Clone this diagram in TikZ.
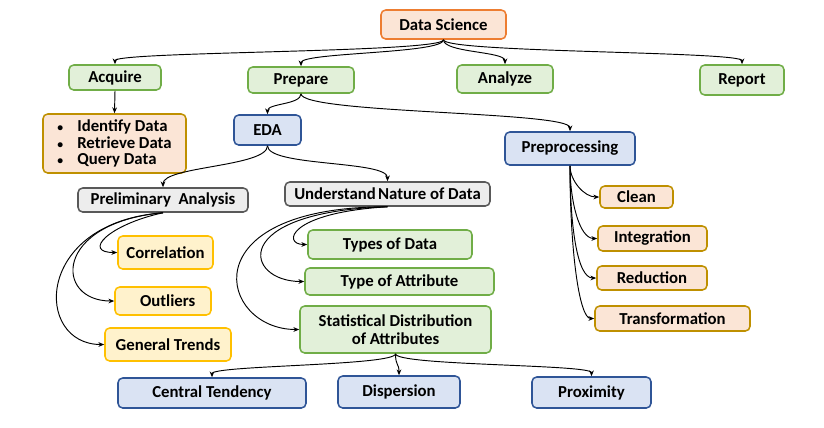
\documentclass[tikz,border=0pt]{standalone}
\usepackage{fontspec}
\setmainfont{Carlito}
\usetikzlibrary{arrows.meta}

\definecolor{orgline}{HTML}{ED7D31}
\definecolor{orgfill}{HTML}{FBE5D6}
\definecolor{grnline}{HTML}{70AD47}
\definecolor{grnfill}{HTML}{E2F0D9}
\definecolor{gldline}{HTML}{BF9000}
\definecolor{bluline}{HTML}{2F5597}
\definecolor{blufill}{HTML}{DAE3F3}
\definecolor{gryline}{HTML}{595959}
\definecolor{gryfill}{HTML}{EDEDED}
\definecolor{ylwline}{HTML}{FFC000}
\definecolor{ylwfill}{HTML}{FFF2CC}

\newcommand{\itm}{{\fontsize{10}{10}\selectfont\textbullet}\hspace{12pt}}

\tikzset{
  box/.style={rounded corners=4pt, line width=1.3pt, inner sep=0pt,
    font=\fontsize{14.3}{14.8}\selectfont\bfseries, align=center},
  wh/.style 2 args={minimum width=#1*0.3mm, minimum height=#2*0.3mm},
  orgbox/.style={box, draw=orgline, fill=orgfill},
  grnbox/.style={box, draw=grnline, fill=grnfill},
  gldbox/.style={box, draw=gldline, fill=orgfill},
  blubox/.style={box, draw=bluline, fill=blufill},
  grybox/.style={box, draw=gryline, fill=gryfill},
  ylwbox/.style={box, draw=ylwline, fill=ylwfill},
  link/.style={line width=0.8pt, -{Stealth[length=5pt,width=4pt]}}
}

\begin{document}
\begin{tikzpicture}[x=0.3mm, y=0.3mm]
			%%%%% START %%%%%
			\useasboundingbox (0,0) rectangle (824,-427);
			
			% top level
			\node[orgbox, wh={125}{29}] (ds) at (443.5,-24.5) {Data Science};
			\node[grnbox, wh={92}{25}] (acq) at (115,-77.5) {Acquire};
			\node[grnbox, wh={106}{26}] (prep) at (301,-80) {Prepare};
			\node[grnbox, wh={96}{28}] (ana) at (505,-79) {Analyze};
			\node[grnbox, wh={84}{30}] (rep) at (742,-80) {Report};
			
			\node[gldbox, wh={143}{59}, align=left, font=\fontsize{14.3}{14}\selectfont\bfseries] (bul) at (114.5,-143.5)
			  {\itm Identify Data\\\itm Retrieve Data\\\itm Query Data};
			
			% prepare
			\node[blubox, wh={67}{30}] (eda) at (267.5,-130) {EDA};
			\node[blubox, wh={130}{33}] (pre) at (570,-148.5) {Preprocessing};
			
			\node[grybox, wh={170}{24}] (pa) at (163,-200) {Preliminary\ \ Analysis};
			\node[grybox, wh={205}{24}] (und) at (387.5,-194) {Understand\hspace{2pt}Nature of Data};
			
			\node[ylwbox, wh={95}{33}] (corr) at (165.5,-252.5) {Correlation};
			\node[ylwbox, wh={96}{28}] (outl) at (163,-301) {\hspace{8pt}Outliers};
			\node[ylwbox, wh={126}{33}] (gt) at (168,-344.5) {General Trends};
			
			\node[grnbox, wh={164}{29}] (tod) at (390,-244.5) {Types of Data};
			\node[grnbox, wh={189}{27}] (toa) at (399.5,-281.5) {Type of Attribute};
			\node[grnbox, wh={191}{47}] (sda) at (395.5,-329.5) {Statistical Distribution\\of Attributes};
			
			\node[blubox, wh={188}{30}] (ct) at (212,-393) {Central Tendency};
			\node[blubox, wh={122}{32}] (disp) at (399,-392) {Dispersion};
			\node[blubox, wh={119}{31}] (prox) at (591.5,-392.5) {Proximity};
			
			\node[gldbox, wh={73}{22}] (clean) at (636.5,-197) {Clean};
			\node[gldbox, wh={109}{25}] (integ) at (652.5,-238.5) {Integration};
			\node[gldbox, wh={110}{24}] (red) at (652,-278) {Reduction};
			\node[gldbox, wh={155}{25}] (trans) at (672.5,-318.5) {Transformation};
			
			% links
			\draw[link] (ds.south) .. controls +(0,-13) and +(0,13) .. (acq.north);
			\draw[link] (ds.south) .. controls +(0,-14) and +(0,14) .. (prep.north);
			\draw[link] (ds.south) .. controls +(0,-13) and +(0,13) .. (ana.north);
			\draw[link] (ds.south) .. controls +(0,-13) and +(0,13) .. (rep.north);
			
			\draw[link] (acq.south) -- (bul.north);
			
			\draw[link] (prep.south) .. controls +(0,-11) and +(0,11) .. (eda.north);
			\draw[link] (prep.south) .. controls +(0,-20) and +(0,20) .. (pre.north);
			
			\draw[link] (eda.south) .. controls +(0,-21) and +(0,21) .. (pa.north);
			\draw[link] (eda.south) .. controls +(0,-21) and +(0,21) .. (und.north);
			
			\draw[link] (pa.south) .. controls +(-55,-12) and +(-35,0) .. (corr.west);
			\draw[link] (pa.south) .. controls +(-110,-10) and +(-60,0) .. (outl.west);
			\draw[link] (pa.south) .. controls +(-130,-10) and +(-70,0) .. (gt.west);
			
			\draw[link] (und.south) .. controls +(-100,-6) and +(-25,0) .. (tod.west);
			\draw[link] (und.south) .. controls +(-160,-5) and +(-60,0) .. (toa.west);
			\draw[link] (und.south) .. controls +(-200,0) and +(-80,0) .. (sda.west);
			
			\draw[link] (sda.south) .. controls +(0,-12) and +(0,12) .. (ct.north);
			\draw[link] (sda.south) .. controls +(0,-12) and +(0,12) .. (disp.north);
			\draw[link] (sda.south) .. controls +(0,-12) and +(0,12) .. (prox.north);
			
			\draw[link] (pre.south) .. controls +(0,-15) and +(-15,0) .. (clean.west);
			\draw[link] (pre.south) .. controls +(0,-35) and +(-18,0) .. (integ.west);
			\draw[link] (pre.south) .. controls +(0,-60) and +(-19,0) .. (red.west);
			\draw[link] (pre.south) .. controls +(0,-85) and +(-15,0) .. (trans.west);
			%%%%% END %%%%%
\end{tikzpicture}
\end{document}
